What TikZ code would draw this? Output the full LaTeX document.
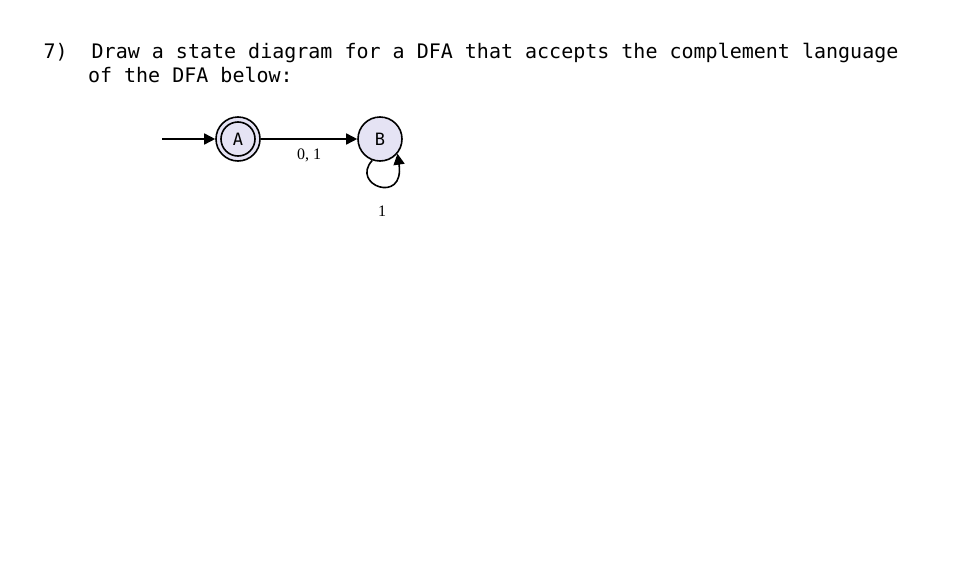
\documentclass[tikz,border=0pt]{standalone}
\usepackage{fontspec}
\setmonofont{DejaVu Sans Mono}
\newfontfamily\lserif{Liberation Serif}
\usetikzlibrary{arrows.meta}
\begin{document}
\begin{tikzpicture}[x=1pt,y=-1pt,
  st/.style={circle,draw,line width=1.6pt,fill=cyan!15!blue!8,minimum size=43pt,inner sep=0pt,font=\ttfamily\fontsize{17}{17}\selectfont},
  acc/.style={st,double,double distance=1.6pt,minimum size=38pt},
  tr/.style={line width=1.6pt,-{Triangle[length=11pt,width=11pt]}},
  lab/.style={font=\lserif\fontsize{16}{16}\selectfont}]
\useasboundingbox (0,0) rectangle (967,568);
\node[anchor=base west,font=\ttfamily\fontsize{20}{24}\selectfont] (t1) at (40,58) {7)\ \ Draw a state diagram for a DFA that accepts the complement language};
\node[anchor=base west,font=\ttfamily\fontsize{20}{24}\selectfont] (t2) at (88,82) {\hspace{-3.5pt}of the DFA below:};
\node[st,minimum size=44pt,fill=cyan!20!blue!10] (B) at (380,139) {B};
\node[circle,draw,line width=1.6pt,fill=cyan!20!blue!10,minimum size=44pt,inner sep=0pt] (Ao) at (238,139) {};
\node[circle,draw,line width=1.6pt,fill=cyan!20!blue!10,minimum size=34pt,inner sep=0pt,font=\ttfamily\fontsize{17}{17}\selectfont] (A) at (238,139) {A};
\coordinate (s) at (162,139);
\draw[tr] (s) -- (Ao);
\draw[tr] (Ao) -- (B) node[lab,midway,below=6pt] {0, 1};
\draw[tr] (B.250) .. controls (350,185) and (405,205) .. (B.-40) ;
\node[lab] (l1) at (382,211) {1};
\end{tikzpicture}
\end{document}
